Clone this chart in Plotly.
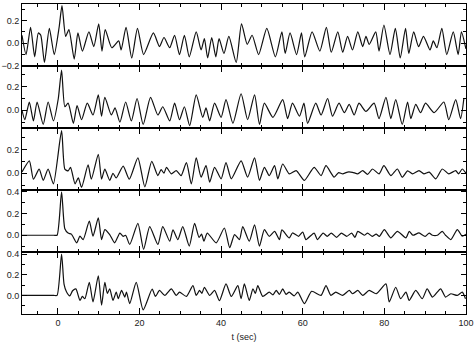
import plotly.graph_objects as go
from plotly.subplots import make_subplots

# ---- data (time in sec, amplitude) ----
t1 = [-8.8, -7.8, -6.7, -5.7, -4.8, -4.2, -3.3, -2.1, -0.9, 0.3, 1.0, 1.9, 2.7, 4.0, 4.9, 6.0, 7.6, 8.8, 10.0, 10.8,
      11.6, 13.2, 14.9, 15.5, 16.7, 18.1, 19.5, 21.0, 23.4, 24.9, 26.0, 27.4, 28.6, 29.8, 31.0, 32.2, 33.9, 35.1, 35.9, 36.7,
      37.7, 38.7, 39.5, 40.7, 41.9, 43.7, 45.0, 46.4, 47.6, 49.2, 51.2, 53.3, 54.9, 55.7, 56.9, 58.5, 59.7, 60.5, 62.3, 64.2,
      65.8, 67.0, 68.6, 69.8, 71.0, 72.2, 73.5, 74.7, 75.5, 76.3, 77.9, 78.7, 79.9, 81.4, 82.7, 83.9, 85.2, 86.0, 87.2, 88.4,
      89.6, 91.2, 92.0, 92.9, 94.1, 95.3, 96.9, 98.1, 98.9, 100.0]
v1 = [0.07, -0.10, 0.14, -0.12, 0.09, 0.07, -0.17, 0.13, -0.10, 0.14, 0.33, 0.06, 0.12, -0.14, 0.09, -0.07, 0.10, -0.03, 0.17, -0.07,
      0.12, -0.04, 0.02, -0.06, 0.14, -0.13, 0.13, -0.10, 0.09, -0.03, 0.05, -0.04, 0.07, -0.10, 0.07, -0.12, 0.10, -0.06, 0.04, -0.13,
      0.05, -0.12, 0.04, -0.09, 0.06, -0.17, 0.17, -0.01, 0.07, -0.10, 0.13, -0.12, 0.10, -0.09, 0.09, -0.10, 0.09, -0.12, 0.10, -0.07,
      0.14, -0.08, 0.10, -0.08, 0.06, -0.06, 0.10, -0.03, 0.06, -0.01, 0.10, -0.07, 0.16, -0.10, 0.13, -0.13, 0.13, -0.09, 0.10, -0.03,
      0.06, -0.06, 0.02, -0.04, 0.13, -0.10, 0.10, -0.10, 0.10, -0.05]

t2 = [-8.8, -8.1, -7.0, -6.0, -5.1, -3.6, -2.4, -1.1, 0.1, 0.9, 1.7, 2.5, 3.8, 4.7, 5.8, 7.2, 8.6, 9.9, 10.7, 11.5,
      13.1, 14.0, 15.2, 16.6, 18.0, 19.4, 20.9, 22.7, 24.5, 25.7, 27.4, 28.6, 29.8, 31.0, 32.3, 33.9, 35.5, 36.3, 37.2, 38.4,
      40.0, 41.2, 42.9, 44.9, 46.5, 48.2, 49.4, 50.6, 52.7, 55.1, 56.3, 57.5, 59.2, 60.3, 61.2, 63.2, 64.5, 66.1, 67.3, 68.9,
      70.2, 71.4, 72.6, 73.8, 75.5, 77.5, 78.7, 80.4, 81.6, 82.8, 84.4, 85.7, 86.5, 87.7, 88.9, 90.1, 92.2, 94.6, 95.8, 97.5,
      98.7, 99.5]
v2 = [0.0, -0.08, 0.07, -0.09, 0.07, -0.12, 0.07, -0.09, 0.10, 0.34, 0.03, 0.06, -0.11, 0.04, -0.08, 0.06, -0.04, 0.13, -0.05, 0.11,
      -0.04, 0.02, -0.10, 0.07, -0.09, 0.10, -0.12, 0.11, -0.04, 0.03, -0.09, 0.06, -0.08, 0.03, -0.13, 0.13, -0.06, 0.02, -0.09, 0.06,
      -0.06, 0.09, -0.11, 0.14, -0.08, 0.13, -0.12, 0.06, -0.06, 0.09, -0.07, 0.06, -0.05, 0.06, -0.11, 0.06, -0.04, 0.10, -0.05, 0.06,
      -0.02, 0.05, -0.04, 0.06, -0.01, 0.06, -0.07, 0.11, -0.07, 0.09, -0.12, 0.07, -0.07, 0.05, -0.02, 0.06, -0.02, 0.07, -0.08, 0.09,
      -0.07, 0.10]

t3 = [-8.8, -7.0, -6.0, -4.6, -3.6, -2.4, -1.1, 0.9, 1.7, 2.5, 3.1, 4.2, 5.0, 5.8, 7.4, 8.2, 9.9, 10.7, 11.5, 12.7,
      13.5, 14.3, 16.0, 17.5, 19.6, 21.3, 23.0, 24.5, 25.3, 26.0, 26.6, 27.8, 29.0, 30.2, 31.5, 32.7, 33.9, 35.1, 36.3, 37.2,
      38.4, 40.0, 41.2, 42.5, 44.9, 46.5, 48.2, 49.4, 50.6, 51.8, 53.1, 53.9, 55.1, 56.7, 58.4, 60.4, 62.8, 64.5, 65.7, 67.7,
      68.8, 69.8, 71.0, 72.2, 73.5, 74.7, 75.9, 77.1, 78.7, 79.9, 81.6, 83.2, 84.4, 85.7, 86.9, 88.5, 89.7, 91.0, 92.6, 94.2,
      95.8, 97.5, 98.2, 99.1, 100.0]
v3 = [0.01, 0.105, -0.05, 0.035, -0.06, 0.035, -0.09, 0.36, 0.035, 0.02, 0.05, -0.09, -0.04, -0.12, 0.07, -0.05, 0.16, -0.05, 0.035, -0.06,
      0.0, -0.04, 0.06, -0.05, 0.13, -0.115, 0.10, -0.02, 0.03, 0.0, 0.05, -0.005, 0.022, -0.02, 0.09, -0.09, 0.13, -0.033, 0.064, -0.075,
      0.05, -0.047, 0.09, -0.047, 0.105, -0.033, 0.13, -0.06, 0.05, -0.02, 0.064, -0.047, 0.078, -0.005, 0.022, -0.06, 0.05, -0.02, 0.064, -0.033,
      0.005, -0.005, 0.01, 0.008, -0.005, 0.022, -0.01, 0.036, -0.005, 0.064, -0.02, 0.036, -0.033, 0.02, -0.005, 0.022, -0.005, 0.01, -0.047, 0.036,
      -0.005, 0.022, -0.005, 0.036, 0.0]

t4 = [-8.8, -6.0, -3.0, -1.0, -0.2, 0.9, 1.7, 2.5, 3.3, 4.6, 5.4, 6.2, 7.7, 8.6, 9.9, 10.7, 11.5, 12.7, 13.9, 15.2,
      16.0, 16.6, 17.6, 19.6, 21.0, 22.5, 24.5, 25.7, 27.4, 28.2, 29.4, 30.6, 32.2, 33.5, 34.6, 35.2, 35.8, 36.6, 38.8, 40.8,
      42.1, 43.3, 44.5, 45.3, 46.9, 48.2, 49.4, 50.6, 51.8, 53.1, 54.3, 54.9, 56.7, 57.5, 59.0, 60.0, 60.8, 62.8, 63.6, 65.0,
      66.0, 67.0, 68.3, 69.5, 70.8, 72.0, 72.8, 73.5, 75.1, 75.9, 77.0, 78.0, 78.8, 80.0, 81.6, 83.2, 85.3, 86.1, 87.0, 88.5,
      90.0, 91.0, 91.8, 93.0, 94.2, 95.0, 96.3, 97.9, 99.1, 100.0]
v4 = [0.0, 0.0, 0.0, 0.0, 0.0, 0.40, 0.06, 0.02, 0.01, -0.07, -0.009, -0.04, 0.13, -0.009, 0.16, -0.04, 0.052, 0.006, -0.07, 0.02,
      -0.01, 0.0, -0.085, 0.11, -0.13, 0.08, -0.085, 0.08, -0.055, 0.05, -0.04, 0.08, -0.10, 0.11, -0.02, 0.01, -0.055, 0.02, -0.07, 0.067,
      -0.115, 0.006, -0.04, 0.08, -0.055, 0.097, -0.10, 0.052, -0.01, 0.036, -0.04, 0.05, -0.025, 0.021, -0.01, 0.03, -0.04, 0.02, -0.04, 0.02,
      -0.01, 0.02, -0.02, 0.02, -0.01, 0.02, -0.02, 0.036, 0.0, 0.02, -0.01, 0.01, -0.01, 0.052, -0.024, 0.036, -0.024, 0.036, 0.0, 0.021,
      -0.01, 0.02, 0.0, 0.0, 0.036, 0.0, -0.04, 0.052, -0.009, 0.01]

t5 = [-8.8, -6.0, -3.0, -1.0, -0.2, 0.9, 1.5, 2.1, 2.9, 3.6, 4.4, 5.4, 6.0, 6.6, 7.7, 8.6, 9.9, 10.7, 11.5, 12.1,
      12.7, 13.5, 14.3, 14.8, 15.6, 16.4, 16.8, 17.6, 19.2, 20.9, 23.1, 23.9, 24.9, 26.2, 27.8, 29.0, 29.8, 31.5, 33.1, 33.9,
      34.7, 35.3, 35.9, 37.2, 38.4, 39.6, 41.2, 42.5, 44.1, 44.9, 45.7, 46.9, 47.8, 48.4, 49.0, 50.2, 51.8, 52.7, 53.5, 54.3,
      55.1, 55.9, 56.7, 57.9, 58.8, 60.4, 62.2, 64.5, 65.7, 66.9, 68.1, 69.8, 71.4, 72.2, 73.5, 74.7, 76.3, 78.0, 80.4, 81.2,
      82.8, 84.0, 85.3, 86.1, 87.7, 89.3, 90.5, 91.8, 93.8, 95.0, 96.3, 97.9, 99.1, 99.9]
v5 = [0.0, 0.0, 0.0, 0.0, 0.0, 0.40, 0.11, 0.035, -0.005, 0.045, 0.063, -0.048, -0.01, -0.032, 0.127, -0.063, 0.19, -0.095, 0.127, 0.02,
      0.063, -0.048, 0.032, -0.032, 0.048, -0.016, 0.032, -0.079, 0.127, -0.14, 0.06, -0.01, 0.048, 0.0, 0.063, 0.0, 0.032, -0.01, 0.095, 0.0,
      0.048, 0.02, 0.079, 0.0, 0.048, -0.05, 0.111, -0.01, 0.095, -0.032, 0.111, -0.048, 0.063, 0.02, 0.095, -0.01, 0.032, 0.005, 0.048, 0.01,
      0.063, 0.01, 0.032, -0.005, 0.032, -0.079, 0.04, 0.0, 0.095, 0.0, 0.032, 0.0, 0.048, 0.016, 0.048, 0.0, 0.048, 0.016, 0.111, -0.064,
      0.079, -0.032, 0.032, -0.048, 0.048, -0.032, 0.063, -0.016, 0.063, -0.016, 0.016, 0.0, 0.032, -0.032]

series = [(t1, v1), (t2, v2), (t3, v3), (t4, v4), (t5, v5)]
y_ranges = [[-0.201, 0.345], [-0.15, 0.375], [-0.142, 0.383], [-0.155, 0.418], [-0.18, 0.42]]
x_range = [-8.8, 100.02]
x_title = "t (sec)"

fig = make_subplots(rows=5, cols=1, shared_xaxes=True, vertical_spacing=0)
for i, (t, v) in enumerate(series, start=1):
    fig.add_trace(go.Scatter(x=t, y=v, mode="lines",
                             line=dict(color="#111111", width=1.2, shape="spline", smoothing=0.6),
                             showlegend=False, hoverinfo="skip"), row=i, col=1)

font = dict(family="Liberation Sans, Arial, sans-serif", size=9, color="#222222")
for i in range(1, 6):
    fig.update_yaxes(row=i, col=1, range=y_ranges[i - 1], tick0=0, dtick=0.2, tickformat=".1f",
                     ticks="inside", ticklen=5, tickcolor="black", tickwidth=1,
                     minor=dict(dtick=0.1, tick0=0, ticks="inside", ticklen=3, tickcolor="black"),
                     showline=True, linecolor="black", linewidth=1, mirror="allticks",
                     showgrid=False, zeroline=False, tickfont=font)
    fig.update_xaxes(row=i, col=1, range=x_range, tick0=0, dtick=20,
                     ticks="inside", ticklen=6, tickcolor="black", tickwidth=1,
                     minor=dict(dtick=5, tick0=0, ticks="inside", ticklen=3, tickcolor="black"),
                     showline=True, linecolor="black", linewidth=1.2, mirror="allticks",
                     showgrid=False, zeroline=False, tickfont=font, ticklabeloverflow="allow")
fig.update_xaxes(row=5, col=1, title=dict(text=x_title, font=font, standoff=6))

fig.update_layout(width=474, height=347, margin=dict(l=22, r=7, t=1, b=33),
                  paper_bgcolor="white", plot_bgcolor="white")
fig.write_html("out.html")
